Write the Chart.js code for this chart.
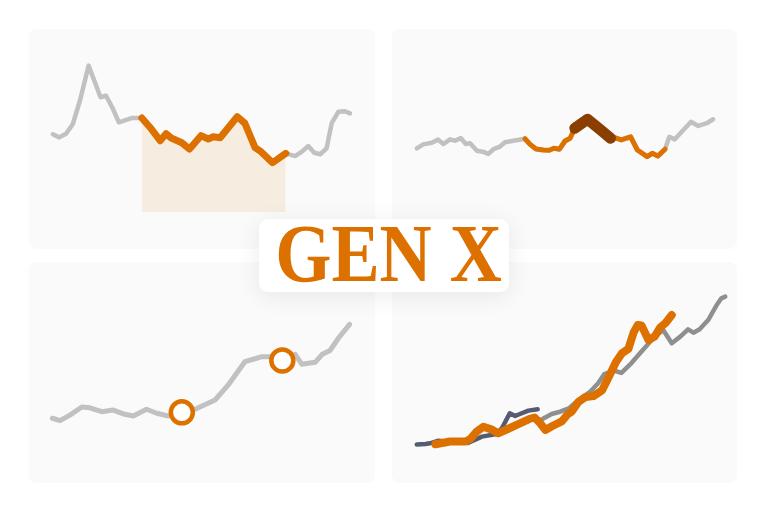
<!DOCTYPE html>
<html>
<head>
<meta charset="utf-8">
<script src="https://cdn.jsdelivr.net/npm/chart.js@4"></script>
<style>
	body { margin: 0; background: #fff; width: 768px; height: 513px; overflow: hidden; position: relative; }
	.panel { position: absolute; background: #fafafa; border-radius: 8px; }
	.panel canvas { display: block; }
	#p1 { left: 29px; top: 29px; }
	#p2 { left: 392px; top: 29px; }
	#p3 { left: 29px; top: 262px; }
	#p4 { left: 392px; top: 262px; }
	#label { position: absolute; left: 259px; top: 219px; width: 250px; height: 73px; background: #fff; border-radius: 9px; box-shadow: 0 4px 24px rgba(0,0,0,0.08); }
	#label span { position: absolute; left: 0; top: -7px; width: 100%; text-align: center; white-space: nowrap; font: bold 83px 'Liberation Serif', serif; line-height: 83px; color: #dd7100; transform: scaleX(0.87); }
</style>
</head>
<body>
<div class="panel" id="p1"><canvas id="c1" width="346" height="220"></canvas></div>
<div class="panel" id="p2"><canvas id="c2" width="345" height="220"></canvas></div>
<div class="panel" id="p3"><canvas id="c3" width="346" height="221"></canvas></div>
<div class="panel" id="p4"><canvas id="c4" width="345" height="221"></canvas></div>
<div id="label"><span>GEN X</span></div>
<script>
const orange = '#dd7100';
const brown = '#8a3f00';
const lightGray = '#c1c1c1';
const midGray = '#8f8f8f';
const slate = '#555c72';

// top left: series with the gen x years highlighted
const p1Years = [1950.2, 1951.7, 1953.3, 1954.9, 1956.6, 1958.6, 1961.4, 1962.7, 1964.2, 1965.7, 1968.7, 1971.1, 1973.4, 1975.4, 1976.8, 1978.0, 1980.5, 1982.3, 1985.0, 1986.7, 1987.9, 1989.5, 1993.5, 1995.3, 1997.7, 1999.1, 2001.8, 2004.9, 2007.1, 2008.7, 2010.2, 2011.6, 2013.0, 2014.5, 2015.7, 2017.3, 2018.8, 2020.0];
const p1Values = [51.1, 49.1, 51.5, 57.9, 73.7, 96.3, 75.5, 76.5, 68.6, 59.0, 61.8, 61.8, 54.4, 46.9, 51.5, 48.7, 45.6, 41.4, 50.2, 48.0, 49.5, 48.9, 62.7, 58.4, 42.3, 39.7, 32.4, 38.6, 36.8, 39.7, 43.4, 39.0, 38.0, 41.9, 58.4, 66.0, 66.3, 64.9];
const p1Range = [1971, 2005];

// top right: series with a gen x span and a peak inside it
const p2Years = [1950.2, 1951.7, 1953.7, 1955.2, 1956.4, 1958.0, 1959.2, 1960.5, 1961.7, 1962.7, 1964.3, 1965.7, 1967.0, 1968.2, 1969.6, 1970.9, 1972.9, 1975.6, 1976.8, 1978.2, 1979.9, 1981.3, 1982.4, 1983.7, 1985.0, 1986.2, 1987.3, 1990.3, 1993.4, 1995.7, 1996.5, 1998.2, 2000.4, 2002.0, 2004.3, 2005.5, 2006.8, 2008.5, 2009.5, 2010.8, 2012.8, 2014.6, 2016.3, 2018.3, 2019.8];
const p2Values = [41.9, 44.5, 45.6, 47.6, 44.7, 47.8, 46.9, 48.7, 44.7, 45.2, 40.3, 39.7, 38.2, 41.3, 42.8, 45.9, 46.9, 48.2, 44.5, 41.4, 40.8, 40.6, 41.9, 41.3, 46.7, 48.5, 55.1, 61.0, 53.9, 48.5, 49.1, 47.4, 49.5, 40.8, 36.4, 38.6, 36.8, 41.3, 49.5, 47.8, 53.9, 59.4, 56.6, 58.4, 61.0];
const p2Range = [1975.5, 2008.6];
const p2PeakRange = [1987.2, 1995.8];

// bottom left: series with two marked points
const p3Years = [1950.1, 1951.9, 1954.2, 1957.0, 1958.9, 1961.7, 1964.4, 1967.1, 1969.1, 1972.2, 1974.6, 1977.3, 1980.5, 1983.6, 1988.3, 1991.4, 1995.3, 1997.3, 1999.3, 2001.6, 2004.1, 2007.1, 2008.7, 2011.8, 2013.5, 2015.3, 2017.4, 2019.9];
const p3Values = [17.6, 16.0, 19.7, 25.0, 24.5, 21.9, 23.0, 20.2, 19.1, 23.5, 20.9, 19.1, 21.5, 23.5, 29.6, 39.5, 54.8, 56.4, 58.1, 58.1, 57.0, 59.7, 53.1, 54.4, 59.7, 62.2, 70.7, 79.4];
const p3MarkYears = [1980.5, 2004.1];
const p3MarkValues = [21.5, 55.6];

// bottom right: three generations by age
const p4OlderAges = [20.1, 21.2, 21.8, 22.9, 24.2, 25.5, 26.7, 28.5, 30.4, 31.1, 32.1, 32.8, 33.4, 34.5, 35.7];
const p4OlderValues = [0.3, 0.7, 1.1, 2.8, 2.2, 2.8, 1.3, 5.5, 7.2, 11.2, 20.9, 19.1, 20.4, 22.6, 23.5];
const p4GenXAges = [22.5, 24.4, 26.4, 27.0, 27.8, 28.7, 29.7, 30.6, 31.7, 33.2, 34.6, 35.3, 35.9, 36.7, 37.6, 38.8, 39.6, 40.1, 41.0, 41.9, 42.9, 44.0, 45.0, 45.8, 46.6, 47.4, 48.1, 48.6, 49.1, 50.0, 50.8, 51.5, 52.2, 53.0];
const p4GenXValues = [0.5, 2.3, 2.3, 3.9, 8.7, 12.0, 10.3, 7.7, 10.2, 13.8, 17.1, 18.1, 15.1, 9.9, 12.5, 15.5, 20.4, 22.0, 28.6, 31.6, 32.2, 35.9, 46.1, 54.6, 60.5, 63.2, 74.3, 78.9, 78.6, 69.1, 71.4, 77.3, 80.3, 85.5];
const p4OtherAges = [36.2, 37.5, 38.6, 39.7, 40.9, 42.5, 43.5, 44.3, 45.5, 46.5, 47.8, 49.1, 50.8, 51.9, 53.0, 54.1, 55.1, 55.8, 56.6, 57.7, 58.8, 59.4, 59.9];
const p4OtherValues = [16.8, 20.4, 21.9, 24.1, 29.3, 35.2, 40.6, 46.7, 49.0, 47.4, 53.9, 61.5, 71.3, 75.7, 66.9, 71.3, 76.1, 73.9, 76.1, 82.2, 92.1, 96.5, 97.6];

function pts(xs, ys, range) {
	const [from, to] = range || [-Infinity, Infinity];
	return xs.map((x, i) => ({ x, y: ys[i] })).filter(p => p.x >= from && p.x <= to);
}

function line(data, color, width, order, extra = {}) {
	return Object.assign({ data, borderColor: color, borderWidth: width, pointRadius: 0, fill: false, clip: false, order }, extra);
}

function makeChart(id, datasets, xMin, xMax, padding) {
	return new Chart(document.getElementById(id), {
		type: 'line',
		data: { datasets },
		options: {
			responsive: false,
			animation: false,
			events: [],
			layout: { padding },
			plugins: { legend: { display: false }, tooltip: { enabled: false } },
			scales: {
				x: { type: 'linear', display: false, min: xMin, max: xMax },
				y: { display: false, min: 0, max: 100 }
			},
			elements: { line: { tension: 0, borderCapStyle: 'round', borderJoinStyle: 'round' } }
		}
	});
}

makeChart('c1', [
	line(pts(p1Years, p1Values, p1Range), orange, 7, 0, { fill: { value: 0 }, backgroundColor: 'rgba(221,113,0,0.1)' }),
	line(pts(p1Years, p1Values), lightGray, 4.5, 1)
], 1950, 2020, { left: 23, right: 25, top: 31, bottom: 37 });

makeChart('c2', [
	line(pts(p2Years, p2Values, p2PeakRange), brown, 11, 0),
	line(pts(p2Years, p2Values, p2Range), orange, 5, 1),
	line(pts(p2Years, p2Values), lightGray, 4.5, 2)
], 1950, 2020, { left: 24, right: 23, top: 31, bottom: 37 });

makeChart('c3', [
	{ data: pts(p3MarkYears, p3MarkValues), showLine: false, pointRadius: 11, pointBorderWidth: 4.5, pointBorderColor: orange, pointBackgroundColor: '#fff', clip: false, order: 0 },
	line(pts(p3Years, p3Values), lightGray, 5, 1)
], 1950, 2020, { left: 23, right: 25, top: 31, bottom: 38 });

makeChart('c4', [
	line(pts(p4GenXAges, p4GenXValues), orange, 8, 0),
	line(pts(p4OlderAges, p4OlderValues), slate, 4.5, 1),
	line(pts(p4OtherAges, p4OtherValues), midGray, 4.5, 2)
], 20, 60, { left: 24, right: 11, top: 31, bottom: 38 });
</script>
</body>
</html>
